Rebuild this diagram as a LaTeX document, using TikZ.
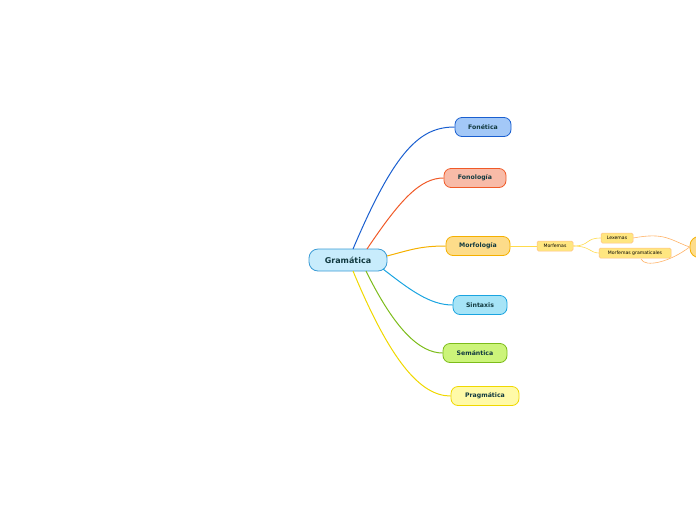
\documentclass[tikz,border=0pt]{standalone}
\usepackage{fontspec}
\setmainfont{DejaVu Sans}
\begin{document}
\begin{tikzpicture}[x=1pt,y=-1pt,
 main/.style={draw,rounded corners=7pt,line width=0.8pt,font=\bfseries\fontsize{6.2}{7}\selectfont,text=black!80!teal,minimum height=19pt,inner sep=0pt},
 sub/.style={draw=orange!50,fill=orange!40!yellow!50,rounded corners=1.5pt,line width=0.5pt,font=\fontsize{4.6}{5}\selectfont,minimum height=10pt,inner sep=1.5pt}]
\useasboundingbox (0,0) rectangle (696,520);
\clip (0,0) rectangle (696,520);
\definecolor{tx}{HTML}{123A40}
\node[main,fill={rgb,255:red,200;green,236;blue,252},draw={rgb,255:red,58;green,155;blue,213},minimum width=78pt,minimum height=22pt,rounded corners=9pt,font=\bfseries\fontsize{8}{9}\selectfont,text=tx] (g) at (348,260) {Gramática};
\node[main,text=tx,fill={rgb,255:red,163;green,200;blue,247},draw={rgb,255:red,26;green,95;blue,208},minimum width=56pt] (fe) at (483,127) {Fonética};
\node[main,text=tx,fill={rgb,255:red,248;green,187;blue,168},draw={rgb,255:red,240;green,90;blue,40},minimum width=62pt] (fo) at (475,178) {Fonología};
\node[main,text=tx,fill={rgb,255:red,253;green,220;blue,138},draw={rgb,255:red,245;green,176;blue,0},minimum width=64pt] (mo) at (478,246) {Morfología};
\node[main,text=tx,fill={rgb,255:red,166;green,228;blue,247},draw={rgb,255:red,26;green,164;blue,224},minimum width=54pt] (si) at (480,305) {Sintaxis};
\node[main,text=tx,fill={rgb,255:red,204;green,244;blue,122},draw={rgb,255:red,124;green,188;blue,26},minimum width=64pt] (se) at (475,353) {Semántica};
\node[main,text=tx,fill={rgb,255:red,255;green,250;blue,168},draw={rgb,255:red,240;green,216;blue,0},minimum width=68pt] (pr) at (485,396) {Pragmática};
\node[sub,minimum width=36pt] (mf) at (555,246) {Morfemas};
\node[sub,minimum width=32pt] (lx) at (617,238) {Lexemas};
\node[sub,minimum width=72pt] (mg) at (635,253) {Morfemas gramaticales};
\node[draw={rgb,255:red,245;green,176;blue,0},fill={rgb,255:red,253;green,220;blue,138},rounded corners=9pt,minimum width=30pt,minimum height=21pt,line width=0.8pt] (cl) at (705,247) {};
\draw[line width=1pt,color={rgb,255:red,26;green,95;blue,208}] (353,249) .. controls (395,150) and (420,127) .. (fe.west);
\draw[line width=1pt,color={rgb,255:red,240;green,90;blue,40}] (367,249) .. controls (400,200) and (420,178) .. (fo.west);
\draw[line width=1pt,color={rgb,255:red,245;green,176;blue,0}] (387,256) .. controls (410,250) and (420,246) .. (mo.west);
\draw[line width=1pt,color={rgb,255:red,26;green,164;blue,224}] (383,269) .. controls (410,290) and (430,305) .. (si.west);
\draw[line width=1pt,color={rgb,255:red,124;green,188;blue,26}] (366,271) .. controls (395,330) and (420,353) .. (se.west);
\draw[line width=1pt,color={rgb,255:red,240;green,216;blue,0}] (353,271) .. controls (390,360) and (420,396) .. (pr.west);
\draw[orange!40!yellow!70,line width=0.6pt] (mo.east) -- (mf.west);
\draw[orange!40!yellow!70,line width=0.6pt] (mf.east) .. controls (590,246) and (585,238) .. (lx.west);
\draw[orange!40!yellow!70,line width=0.6pt] (mf.east) .. controls (590,246) and (590,253) .. (mg.west);
\draw[orange!60,line width=0.6pt] (lx.east) .. controls (665,232) and (670,240) .. (cl.west);
\draw[orange!60,line width=0.6pt] (641,259) .. controls (645,268) and (670,262) .. (cl.west);
\end{tikzpicture}
\end{document}
